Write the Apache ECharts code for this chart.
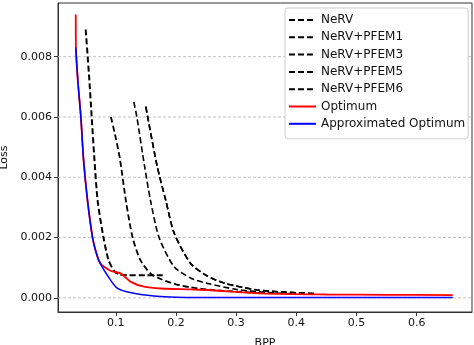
<!DOCTYPE html>
<html><head><meta charset="utf-8">
<script src="https://cdn.jsdelivr.net/npm/echarts@6/dist/echarts.min.js"></script>
<style>html,body{margin:0;padding:0;background:#fff}#c{width:474px;height:345px}</style>
</head><body><div id="c"></div>
<script>
// ---- data ----
const xTicks = [0.1, 0.2, 0.3, 0.4, 0.5, 0.6];
const yTicks = [0.000, 0.002, 0.004, 0.006, 0.008];
const xMin = 0.004, xMax = 0.692;

const nervX = [0.050, 0.0555, 0.060, 0.0645, 0.070, 0.0796, 0.088, 0.097, 0.105, 0.12, 0.15, 0.178];
const nervY = [0.0089, 0.0074, 0.0060, 0.0046, 0.0032, 0.0020, 0.00125, 0.0009, 0.00078, 0.00075, 0.00075, 0.00075];

const pfem1X = [0.092, 0.100, 0.107, 0.117, 0.128, 0.141, 0.158, 0.175, 0.200, 0.224, 0.260, 0.307, 0.340];
const pfem1Y = [0.0060, 0.0053, 0.0046, 0.0032, 0.0020, 0.00125, 0.0008, 0.00062, 0.00045, 0.00035, 0.00026, 0.00020, 0.00015];

const pfem3X = [0.130, 0.135, 0.148, 0.158, 0.172, 0.197, 0.225, 0.252, 0.300, 0.350, 0.400];
const pfem3Y = [0.0065, 0.0060, 0.00435, 0.0032, 0.0020, 0.00103, 0.00065, 0.00048, 0.00028, 0.00018, 0.00013];

const pfem5X = [0.150, 0.153, 0.169, 0.183, 0.197, 0.224, 0.250, 0.280, 0.335, 0.380, 0.430];
const pfem5Y = [0.00634, 0.0060, 0.00435, 0.00324, 0.00215, 0.00115, 0.00075, 0.00049, 0.00026, 0.00019, 0.00014];

const pfem6X = [0.150, 0.153, 0.169, 0.183, 0.197, 0.224, 0.250, 0.280, 0.335, 0.380, 0.430];
const pfem6Y = [0.00634, 0.0060, 0.00435, 0.00324, 0.00215, 0.00115, 0.00075, 0.00049, 0.00026, 0.00019, 0.00014];

const optX = [0.0335, 0.0337, 0.037, 0.042, 0.0465, 0.053, 0.0614, 0.0685, 0.074, 0.0806, 0.092, 0.108, 0.125, 0.147, 0.175, 0.224, 0.252, 0.340, 0.450, 0.550, 0.660];
const optY = [0.0094, 0.0083, 0.0072, 0.0060, 0.00457, 0.00324, 0.0020, 0.00143, 0.00115, 0.00103, 0.00089, 0.00081, 0.00053, 0.00037, 0.00031, 0.00028, 0.00026, 0.00015, 0.00011, 0.0001, 0.00009];

const apxX = [0.0337, 0.037, 0.042, 0.0465, 0.053, 0.0614, 0.0685, 0.074, 0.086, 0.103, 0.130, 0.163, 0.200, 0.300, 0.450, 0.660];
const apxY = [0.0083, 0.0072, 0.0060, 0.00457, 0.00324, 0.0020, 0.00143, 0.00115, 0.00075, 0.00031, 0.00015, 0.00006, 0.00002, 0.00001, 0.00001, 0.00001];

const zip = (xs, ys) => xs.map((x, i) => [x, ys[i]]);
const FONT = 'DejaVu Sans';

const dashed = (name, xs, ys, w) => ({
  name, type: 'line', data: zip(xs, ys), showSymbol: false, symbol: 'none', smooth: 0.25,
  lineStyle: { color: '#000', width: w, type: [6, 3] }, itemStyle: { color: '#000' }, z: 3
});

const gridSeries = yTicks.map(v => ({
  name: 'g' + v, type: 'line', data: [[xMin, v], [xMax, v]], showSymbol: false, symbol: 'none', silent: true, z: 1,
  lineStyle: { color: '#c4c4c4', width: 1, type: [3, 2] }
}));

const chart = echarts.init(document.getElementById('c'));
chart.setOption({
  animation: false,
  grid: { left: 58, top: 3, right: 2, bottom: 33, outerBoundsMode: 'none', containLabel: false,
          show: true, borderColor: '#333', borderWidth: 1, backgroundColor: 'transparent' },
  legend: {
    orient: 'vertical', left: 285, top: 8, padding: [6, 3, 9, 3], itemGap: 5.3,
    itemWidth: 27, itemHeight: 12, backgroundColor: '#fff', borderColor: '#ccc', borderWidth: 1, borderRadius: 3,
    itemStyle: { opacity: 0 },
    textStyle: { fontFamily: FONT, fontSize: 12, color: '#111' },
    data: ['NeRV', 'NeRV+PFEM1', 'NeRV+PFEM3', 'NeRV+PFEM5', 'NeRV+PFEM6', 'Optimum', 'Approximated Optimum']
  },
  xAxis: {
    type: 'value', min: xMin, max: xMax, name: 'BPP', nameLocation: 'middle', nameGap: 26,
    nameTextStyle: { fontFamily: FONT, fontSize: 11, color: '#111' },
    axisLine: { show: true, onZero: false, lineStyle: { color: '#333' } },
    axisTick: { show: true, inside: false, length: 4, customValues: xTicks, lineStyle: { color: '#333' } },
    axisLabel: { customValues: xTicks, fontFamily: FONT, fontSize: 11, color: '#111', margin: 6, formatter: v => v.toFixed(1) },
    splitLine: { show: false }
  },
  yAxis: {
    type: 'value', min: -0.00047, max: 0.00978, name: 'Loss', nameLocation: 'middle', nameGap: 42,
    nameTextStyle: { fontFamily: FONT, fontSize: 11, color: '#111' },
    axisLine: { show: true, onZero: false, lineStyle: { color: '#333' } },
    axisTick: { show: true, length: 4, customValues: yTicks, lineStyle: { color: '#333' } },
    axisLabel: { customValues: yTicks, fontFamily: FONT, fontSize: 11, color: '#111', margin: 6, formatter: v => v.toFixed(3) },
    splitLine: { show: false }
  },
  series: [
    ...gridSeries,
    dashed('NeRV', nervX, nervY, 2),
    dashed('NeRV+PFEM1', pfem1X, pfem1Y, 1.8),
    dashed('NeRV+PFEM3', pfem3X, pfem3Y, 1.6),
    dashed('NeRV+PFEM5', pfem5X, pfem5Y, 1.6),
    dashed('NeRV+PFEM6', pfem6X, pfem6Y, 1.6),
    { name: 'Optimum', type: 'line', data: zip(optX, optY), showSymbol: false, symbol: 'none', smooth: 0.3,
      lineStyle: { color: '#ff0000', width: 1.8 }, itemStyle: { color: '#ff0000' }, z: 4 },
    { name: 'Approximated Optimum', type: 'line', data: zip(apxX, apxY), showSymbol: false, symbol: 'none', smooth: 0.3,
      lineStyle: { color: '#0000ff', width: 1.5 }, itemStyle: { color: '#0000ff' }, z: 5 }
  ]
});
</script></body></html>
